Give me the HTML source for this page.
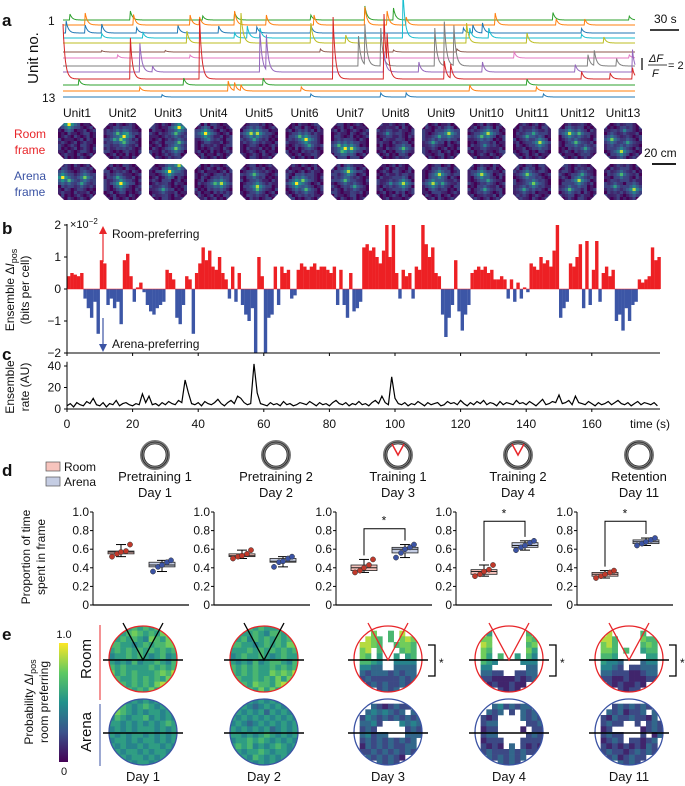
<!DOCTYPE html>
<html><head><meta charset="utf-8">
<style>
body{margin:0;background:#fff}
svg{display:block;font-family:"Liberation Sans",Arial,sans-serif}
text{fill:#111}
</style></head>
<body>
<svg id="fig" width="685" height="786" viewBox="0 0 685 786" xmlns="http://www.w3.org/2000/svg">
<defs>
<clipPath id="oct"><polygon points="6,0 32,0 38,6 38,30 32,36 6,36 0,30 0,6"/></clipPath>
<linearGradient id="vir" x1="0" y1="1" x2="0" y2="0">
<stop offset="0" stop-color="#440154"/><stop offset="0.25" stop-color="#3b528b"/><stop offset="0.5" stop-color="#21918c"/><stop offset="0.75" stop-color="#5ec962"/><stop offset="1" stop-color="#fde725"/></linearGradient>
</defs>
<text x="2" y="26" font-size="17" font-weight="bold">a</text>
<text x="2" y="234" font-size="17" font-weight="bold">b</text>
<text x="2" y="360" font-size="17" font-weight="bold">c</text>
<text x="2" y="476" font-size="17" font-weight="bold">d</text>
<text x="2" y="640" font-size="17" font-weight="bold">e</text>

<text transform="translate(38,58) rotate(-90)" text-anchor="middle" font-size="15">Unit no.</text>
<text x="48" y="25" font-size="12">1</text>
<text x="42" y="102" font-size="12">13</text>
<text x="654" y="23" font-size="12">30 s</text>
<line x1="650" y1="30" x2="679" y2="30" stroke="#000" stroke-width="1.5"/>
<line x1="642" y1="58" x2="642" y2="70" stroke="#000" stroke-width="1.2"/>
<text x="649" y="62" font-size="11" font-style="italic">ΔF</text>
<line x1="648" y1="65" x2="667" y2="65" stroke="#000" stroke-width="0.8"/>
<text x="652" y="77" font-size="11" font-style="italic">F</text>
<text x="668" y="69" font-size="11">= 2</text>
<text x="30" y="138" text-anchor="middle" font-size="12" style="fill:#e8262a">Room</text>
<text x="30" y="154" text-anchor="middle" font-size="12" style="fill:#e8262a">frame</text>
<text x="30" y="180" text-anchor="middle" font-size="12" style="fill:#3b53a4">Arena</text>
<text x="30" y="196" text-anchor="middle" font-size="12" style="fill:#3b53a4">frame</text>
<text x="644" y="157" font-size="12">20 cm</text>
<line x1="652" y1="164" x2="676" y2="164" stroke="#000" stroke-width="1.8"/>
<g id="traces"></g>
<g id="unitmaps"></g>

<text transform="translate(14,290) rotate(-90)" text-anchor="middle" font-size="12">Ensemble Δ<tspan font-style="italic">I</tspan><tspan font-size="9" dy="3">pos</tspan></text>
<text transform="translate(29,290) rotate(-90)" text-anchor="middle" font-size="12">(bits per cell)</text>
<text x="70" y="228" font-size="11">×10<tspan font-size="8" dy="-4">−2</tspan></text>
<text x="112" y="238" font-size="12">Room-preferring</text>
<text x="112" y="348" font-size="12">Arena-preferring</text>
<line x1="103" y1="262" x2="103" y2="232" stroke="#e8262a" stroke-width="1.2"/>
<polygon points="99,234 107,234 103,226" fill="#e8262a"/>
<line x1="103" y1="318" x2="103" y2="346" stroke="#3b53a4" stroke-width="1.2"/>
<polygon points="99,344 107,344 103,352" fill="#3b53a4"/>
<g id="pb"></g>

<text transform="translate(14,387) rotate(-90)" text-anchor="middle" font-size="12">Ensemble</text>
<text transform="translate(29,387) rotate(-90)" text-anchor="middle" font-size="12">rate (AU)</text>
<text x="630" y="428" font-size="12">time (s)</text>
<g id="pc"></g>

<rect x="46" y="462" width="14" height="9" fill="#f7c4bd" stroke="#555" stroke-width="0.7"/>
<text x="64" y="471" font-size="12">Room</text>
<rect x="46" y="477" width="14" height="9" fill="#c5cde3" stroke="#555" stroke-width="0.7"/>
<text x="64" y="486" font-size="12">Arena</text>
<text transform="translate(30,557) rotate(-90)" text-anchor="middle" font-size="12">Proportion of time</text>
<text transform="translate(45,557) rotate(-90)" text-anchor="middle" font-size="12">spent in frame</text>
<g id="pd"></g>

<rect x="59" y="643" width="9" height="119" fill="url(#vir)"/>
<text x="64" y="638" text-anchor="middle" font-size="11">1.0</text>
<text x="64" y="775" text-anchor="middle" font-size="11">0</text>
<text transform="translate(33,702) rotate(-90)" text-anchor="middle" font-size="12">Probability Δ<tspan font-style="italic">I</tspan><tspan font-size="9" dy="3">pos</tspan></text>
<text transform="translate(48,702) rotate(-90)" text-anchor="middle" font-size="12">room preferring</text>
<text transform="translate(91,659) rotate(-90)" text-anchor="middle" font-size="15">Room</text>
<text transform="translate(91,732) rotate(-90)" text-anchor="middle" font-size="15">Arena</text>
<line x1="100" y1="625" x2="100" y2="700" stroke="#e8262a" stroke-width="1"/>
<line x1="100" y1="704" x2="100" y2="766" stroke="#3b53a4" stroke-width="1"/>
<g id="pe"></g>
</svg>

<script>
const NS='http://www.w3.org/2000/svg';
function mk(tag,attrs,parent){const e=document.createElementNS(NS,tag);for(const k in attrs)e.setAttribute(k,attrs[k]);parent.appendChild(e);return e;}
function vir(v){v=Math.max(0,Math.min(1,v));const s=[[68,1,84],[59,82,139],[33,145,140],[94,201,98],[253,231,37]];const p=v*4,i=Math.min(3,Math.floor(p)),f=p-i;const c=s[i].map((a,j)=>Math.round(a+(s[i+1][j]-a)*f));return `rgb(${c[0]},${c[1]},${c[2]})`;}

const unitColors=['#2ca02c','#ff7f0e','#1f77b4','#17becf','#bcbd22','#8c564b','#e377c2','#7f7f7f','#9467bd','#d62728','#2ca02c','#ff7f0e','#1f77b4'];
const unitBaselines=[20,25,33,38,43,52,58,66,72,79,85,91,97];
const unitSpikes=[
[[2,8],[21,12],[44,4],[54,8],[78,5],[95,14],[104,12],[154,10],[178,5]],
[[7,12],[22,14],[40,10],[43,8],[54,14],[64,10],[79,10],[95,18],[102,14],[108,8],[136,12],[155,8],[164,8]],
[[1,12],[7,8],[12,12],[23,7],[36,10],[49,7],[61,6],[78,8],[126,5],[129,8],[132,10],[163,6]],
[[12,6],[25,7],[54,5],[58,12],[62,10],[107,45],[128,10],[134,10],[163,5]],
[[39,12],[56,30],[78,20],[89,8],[127,20],[146,10],[170,8]],
[[12,2],[32,2],[81,3],[104,2],[124,3]],
[[17,4],[40,3],[142,6],[178,4]],
[[93,30],[95,40],[100,38],[117,38],[120,44],[123,40],[165,15],[167,20],[174,10]],
[[24,38],[28,8],[62,40],[64,35],[101,20],[112,10],[132,10],[161,10],[179,30]],
[[0,55],[21,55],[43,60],[85,62],[101,65],[102,30],[120,18],[122,14],[163,10],[172,8],[179,15]],
[[5,6],[38,7],[63,7],[146,6]],
[[24,5],[52,10],[54,8],[56,6],[75,4],[128,6],[149,4]],
[[31,3],[78,3],[100,4],[108,4],[151,4]]
];
function tx(t){return 63+t*572/180;}
const gT=document.getElementById('traces');
unitSpikes.forEach((sp,u)=>{
  let d='';
  for(let t=0;t<=180;t+=0.2){
    let a=0;sp.forEach(s=>{if(t>=s[0])a+=s[1]*Math.exp(-(t-s[0])/0.7);});
    d+=(t===0?'M':'L')+tx(t).toFixed(1)+','+(unitBaselines[u]-a).toFixed(1);
  }
  const p=mk('path',{d:d,fill:'none',stroke:unitColors[u],'stroke-width':1},gT);
  
  
});

const baseTexture='01210120110210121021012010221011201201021101220101210210120120111012021012101201211021012102210120101201210211021012210101211021012010201';
const roomHotspots=[[[3,0,9]],[[6,4,9],[5,5,7],[4,3,6],[6,6,6],[3,5,5],[7,3,5]],[[9,1,9],[8,3,6],[9,6,6],[8,8,7]],[[3,3,9],[4,5,4]],[[3,3,8],[5,3,8],[4,5,5]],[[6,5,9],[4,4,6],[7,7,5]],[[4,8,9],[6,8,8],[2,7,6],[3,9,6]],[[8,8,6],[3,3,4]],[[8,3,8],[5,4,5],[3,6,5]],[[6,3,8],[4,4,6],[5,7,4]],[[8,6,8],[4,4,5],[6,3,5]],[[3,3,8],[6,3,6],[5,6,6],[8,8,5]],[[2,5,7],[5,9,8],[7,6,5],[6,2,4]]];
const arenaHotspots=[[[1,4,9],[3,5,6],[8,4,7],[7,6,5]],[[5,6,9],[4,4,5]],[[6,2,9],[9,0,8],[4,8,5]],[[8,6,8],[6,6,6]],[[4,3,6],[5,7,8],[5,8,6]],[[3,6,9],[5,5,7],[6,8,6]],[[5,2,8],[4,5,6],[7,7,5]],[[8,6,8],[4,6,4]],[[5,3,8],[3,6,8],[6,6,5]],[[4,3,8],[6,5,5],[5,8,5]],[[4,3,7],[6,6,7],[3,8,5]],[[6,5,8],[3,8,6],[7,3,5]],[[5,3,6],[9,8,8],[3,7,5]]];
const gU=document.getElementById('unitmaps');
const unitNames=['Unit1','Unit2','Unit3','Unit4','Unit5','Unit6','Unit7','Unit8','Unit9','Unit10','Unit11','Unit12','Unit13'];
unitNames.forEach((nm,u)=>{
  const cx=77+45.5*u;
  const lab=mk('text',{x:cx,y:117,'text-anchor':'middle','font-size':12},gU);lab.textContent=nm;
  
  
  [[roomHotspots,123,'room'],[arenaHotspots,164,'arena']].forEach(([hs,y0,fr],k)=>{
    const g=mk('g',{transform:`translate(${cx-19},${y0})`,'clip-path':'url(#oct)'},gU);
    
    
    const cs=38/12,csy=36/12;
    for(let r=0;r<12;r++)for(let c=0;c<12;c++){
      const off=(u*7+k*13);
      let v=+baseTexture[(r*12+c+off)%baseTexture.length]*0.1;
      hs[u].forEach(h=>{const dd=Math.abs(h[0]-c)+Math.abs(h[1]-r);if(dd===0)v=Math.max(v,h[2]/9);else if(dd===1)v=Math.max(v,h[2]/9*0.5);else if(dd===2)v=Math.max(v,h[2]/9*0.32);else if(dd===3)v=Math.max(v,h[2]/9*0.22);});
      const cell=mk('rect',{x:(c*cs).toFixed(2),y:(r*csy).toFixed(2),width:cs+0.3,height:csy+0.3,fill:vir(v)},g);
      
      
    }
  });
});

const deltaInfo=[.4,.5,.45,.4,.5,-.3,-.6,-.9,-.4,-1.4,.9,.8,-.5,-.3,-.6,-.4,-1.1,.9,1.1,.4,-.4,.05,.2,-.1,-.5,-.7,-.8,-.6,-.5,-.4,.6,.5,.3,-.9,-1.1,-.5,.4,.3,-1.4,.5,.8,1.3,.9,1.2,.7,.6,1.0,.5,.3,-.3,.7,-.4,.5,-.5,-.8,-1,-.6,-2,1.0,.4,-2,-.9,-.8,.7,-.5,.7,.5,.6,-.3,-.2,.6,.8,.7,.6,.7,.8,.6,.7,.7,.6,.5,.7,-.5,.6,-.5,-.9,.5,-.7,-.6,-.4,1.3,1.4,1.2,1.3,1.0,.8,1.2,2.0,1.0,2.0,.5,-.3,.6,.4,.5,-.3,.7,.6,2.0,1.4,1.0,1.3,.5,.4,-.8,-1.5,-.9,-.5,.9,-.7,-1.3,-.8,-.5,.5,.6,.7,.6,.7,.5,.6,.3,.3,.4,.3,-.3,.3,-.4,.2,-.3,.05,-.1,.8,.7,.6,1.0,.8,.9,.7,1.2,2.0,-.9,-.6,-.4,.8,.7,1.0,1.4,-.6,1.5,-.5,.6,1.5,-.4,.5,.7,.4,.6,-1.0,-.8,-1.3,-.6,-1.0,-.5,-.4,.3,.2,.3,.4,1.3,.9,1.0];
const bYTicks=[2,1,0,-1,-2];
const bYTickLabels=['2','1','0','−1','−2'];
const timeTicks=[0,20,40,60,80,100,120,140,160];
function X(t){return 67+t*3.28;}
function Yb(v){return 289-v*32;}
const gB=document.getElementById('pb');
deltaInfo.forEach((v,i)=>{
  const y=Yb(v),y0=Yb(0);
  const r=mk('rect',{x:X(i).toFixed(2),y:Math.min(y,y0).toFixed(2),width:3.4,height:Math.abs(y-y0).toFixed(2),fill:v>=0?'#ed2024':'#3c56a6'},gB);
  
  
});
mk('line',{x1:67,y1:Yb(2)-1,x2:67,y2:Yb(-2),stroke:'#000','stroke-width':1},gB);
mk('line',{x1:67,y1:Yb(0),x2:660,y2:Yb(0),stroke:'#ed2024','stroke-width':0.6},gB);
mk('line',{x1:67,y1:Yb(-2),x2:660,y2:Yb(-2),stroke:'#000','stroke-width':1},gB);
timeTicks.forEach(t=>mk('line',{x1:X(t),y1:Yb(-2),x2:X(t),y2:Yb(-2)+3,stroke:'#000'},gB));
bYTicks.forEach((v,i)=>{
  mk('line',{x1:64,y1:Yb(v),x2:67,y2:Yb(v),stroke:'#000'},gB);
  const t=mk('text',{x:61,y:Yb(v)+4,'text-anchor':'end','font-size':12},gB);t.textContent=bYTickLabels[i];
  
  
});

const ensembleRate=[3,5,2,6,4,3,7,5,10,4,3,6,2,5,4,8,3,5,6,4,3,5,4,14,6,12,4,5,3,6,4,7,5,4,8,6,27,15,5,4,6,3,7,5,4,6,9,5,3,6,8,5,12,10,6,4,5,42,15,5,4,3,6,4,5,3,7,4,5,3,4,6,5,4,7,5,3,6,4,5,3,6,8,5,4,6,3,5,4,7,4,5,3,6,8,5,12,6,4,30,10,5,4,6,3,5,4,7,5,3,6,4,5,6,3,4,7,5,6,4,8,5,3,6,4,7,5,8,4,6,5,3,7,4,6,5,4,8,5,6,4,7,5,3,6,9,4,5,7,6,13,5,6,8,4,12,6,5,4,7,5,3,6,4,5,7,4,6,8,5,4,6,3,5,7,4,6,5,4,6,3];
const cYTicks=[0,20,40];
function Yc(v){return 409-v*1.075;}
const gC=document.getElementById('pc');
let dc='';
ensembleRate.forEach((v,i)=>{dc+=(i?'L':'M')+X(i).toFixed(1)+','+Yc(v).toFixed(1);});
const pcL=mk('path',{d:dc,fill:'none',stroke:'#000','stroke-width':1.2},gC);


mk('line',{x1:67,y1:Yc(44),x2:67,y2:Yc(0),stroke:'#000'},gC);
mk('line',{x1:67,y1:Yc(0),x2:660,y2:Yc(0),stroke:'#000'},gC);
cYTicks.forEach(v=>{
  mk('line',{x1:64,y1:Yc(v),x2:67,y2:Yc(v),stroke:'#000'},gC);
  const t=mk('text',{x:61,y:Yc(v)+4,'text-anchor':'end','font-size':12},gC);t.textContent=v;
  
  
});
timeTicks.forEach(t=>{
  mk('line',{x1:X(t),y1:Yc(0),x2:X(t),y2:Yc(0)+3,stroke:'#000'},gC);
  const e=mk('text',{x:X(t),y:428,'text-anchor':'middle','font-size':12},gC);e.textContent=t;
  
  
});

const sessions=['Pretraining 1','Pretraining 2','Training 1','Training 2','Retention'];
const sessionDays=['Day 1','Day 2','Day 3','Day 4','Day 11'];
const roomPoints=[[.52,.55,.57,.58,.65],[.50,.52,.53,.55,.59],[.35,.37,.40,.43,.49],[.31,.33,.36,.38,.43],[.29,.31,.33,.35,.37]];
const arenaPoints=[[.36,.41,.43,.46,.48],[.41,.46,.47,.50,.52],[.51,.56,.60,.62,.65],[.59,.62,.64,.67,.69],[.64,.66,.68,.70,.72]];
const sigPairs=[false,false,true,true,true];
const sigLevel=[0,0,0.82,0.9,0.9];
const dYTicks=[0,0.2,0.4,0.6,0.8,1.0];
const dYLabels=['0','0.2','0.4','0.6','0.8','1.0'];
const axX=[93,214,336,456,577];
function Yd(v){return 605-v*93;}
const gD=document.getElementById('pd');
sessions.forEach((s,i)=>{
  const ax=axX[i],hc=ax+62;
  const circ=mk('circle',{cx:hc,cy:455,r:13,fill:'none',stroke:'#777','stroke-width':4},gD);
  
  
  mk('circle',{cx:hc,cy:455,r:13,fill:'none',stroke:'#111','stroke-width':0.6},gD);
  mk('circle',{cx:hc,cy:455,r:11,fill:'none',stroke:'#111','stroke-width':0.6},gD);
  if(i===2||i===3){mk('path',{d:`M${hc-6},${444} L${hc},${455} L${hc+6},${444}`,fill:'none',stroke:'#e8262a','stroke-width':1.5},gD);}
  const t1=mk('text',{x:hc,y:481,'text-anchor':'middle','font-size':13},gD);t1.textContent=s;
  
  
  const t2=mk('text',{x:hc,y:497,'text-anchor':'middle','font-size':13},gD);t2.textContent=sessionDays[i];
  
  
  mk('line',{x1:ax,y1:Yd(1),x2:ax,y2:Yd(0),stroke:'#000'},gD);
  mk('line',{x1:ax,y1:Yd(0),x2:ax+96,y2:Yd(0),stroke:'#000','stroke-width':1.2},gD);
  dYTicks.forEach((v,k)=>{
    mk('line',{x1:ax-3,y1:Yd(v),x2:ax,y2:Yd(v),stroke:'#000'},gD);
    const tl=mk('text',{x:ax-4,y:Yd(v)+4,'text-anchor':'end','font-size':12},gD);tl.textContent=dYLabels[k];
    
    
  });
  [[roomPoints[i],ax+28,'#f7c4bd','#c0392b','room'],[arenaPoints[i],ax+69,'#c5cde3','#3b53a4','arena']].forEach(([pts,cx,fill,dot,nm])=>{
    const sp=[...pts].sort((a,b)=>a-b);const q1=sp[1],med=sp[2],q3=sp[3];
    mk('line',{x1:cx,y1:Yd(sp[0]),x2:cx,y2:Yd(sp[4]),stroke:'#000'},gD);
    mk('line',{x1:cx-5,y1:Yd(sp[0]),x2:cx+5,y2:Yd(sp[0]),stroke:'#000'},gD);
    mk('line',{x1:cx-5,y1:Yd(sp[4]),x2:cx+5,y2:Yd(sp[4]),stroke:'#000'},gD);
    const b=mk('rect',{x:cx-13,y:Yd(q3),width:26,height:Yd(q1)-Yd(q3),fill:fill,stroke:'#222','stroke-width':0.8},gD);
    
    
    mk('line',{x1:cx-13,y1:Yd(med),x2:cx+13,y2:Yd(med),stroke:'#222'},gD);
    const offs=[-9,-4,0,5,9];
    pts.forEach((v,k)=>{
      const c=mk('circle',{cx:cx+offs[k],cy:Yd(v),r:2.6,fill:dot,stroke:'#333','stroke-width':0.5},gD);
      
      
    });
  });
  if(sigPairs[i]){
    const yy=Yd(sigLevel[i]);
    const mr=Math.max(...roomPoints[i]),ma=Math.max(...arenaPoints[i]);
    mk('path',{d:`M${ax+28},${Yd(mr)-4} L${ax+28},${yy} L${ax+69},${yy} L${ax+69},${Yd(ma)-4}`,fill:'none',stroke:'#000','stroke-width':1},gD);
    const st=mk('text',{x:ax+48,y:yy-4,'text-anchor':'middle','font-size':12},gD);st.textContent='*';
    
    
  }
});

const dayLabels=['Day 1','Day 2','Day 3','Day 4','Day 11'];
const roomMaps=[
["556565656655","855676565786","756565476578","665545656677","565656565656","455656545645","545464556546","656555565656","756565556768","865565656578","556565657866","565656575656"],
["565656555655","655565466576","556465656568","665545656577","555656565656","456556545655","545464566546","656565565656","656565576768","565565657578","556576657866","565657575656"],
["............","...7..6.8...","..876.6.787.",".8876..6776.",".78.6...676.",".76.5..5.56.",".6654..4444.",".4433..3333.",".3233323233.",".2322222323.","..232322322.","....2323...."],
["............","..5......6..",".77......76.",".87......67.",".76......75.",".75.6..5.64.",".654....444.",".44......33.",".3322..2233.",".2211112123.","..1211211.2.","....2121...."],
["............","..8.....6...",".886....766.",".786....676.",".776.6..566.",".665.....55.",".5443...344.",".4432.22333.",".3322211233.",".2211211122.","..2121121...","....2122...."]];
const arenaMaps=[
["545454545454","456545654545","576545455454","465455645454","554545454565","454545554545","545455454545","455454554545","545445455454","454554545545","545455454545","454545545454"],
["454545454545","545434545465","454545354546","545454545454","454345454545","545454534545","554545654545","455656545454","565645456545","454556545545","545465454545","454545454545"],
["............","...3212322..","..3434323.3.",".24323232323",".3342...4343",".232.....232",".34233...333",".2323232323.",".1323232233.",".2232323232.","..3232321...","....3232...."],
["............","...3423233..","..323.2.323.",".212....3232",".233.....223",".122....1.22",".233.....232",".1222...2222",".2121.3.2121",".2322232322.","..3232323...","....3232...."],
["............","...2323232..","..3231223.3.",".2132232213.",".2322..2.232",".12.....1232",".2322...2.13",".1232.22123.",".2121212132.",".2322123232.","..2312322...","....3232...."]];
const dayCx=[143,264,388,509,629];
const gE=document.getElementById('pe');
dayCx.forEach((cx,i)=>{
  [[roomMaps[i],659,'#e8262a','room'],[arenaMaps[i],732,'#3b53a4','arena']].forEach(([mp,cy,col,nm])=>{
    const cid='cl'+nm+i;
    const cp=mk('clipPath',{id:cid},gE);mk('ellipse',{cx:cx,cy:cy,rx:34,ry:33},cp);
    const g=mk('g',{'clip-path':`url(#${cid})`},gE);
    
    
    const cs=68/12;
    mp.forEach((row,r)=>{[...row].forEach((ch,c)=>{
      if(ch==='.')return;
      const cell=mk('rect',{x:(cx-34+c*cs).toFixed(2),y:(cy-34+r*cs).toFixed(2),width:cs+0.3,height:cs+0.3,fill:vir(+ch/9)},g);
      
      
    });});
    mk('ellipse',{cx:cx,cy:cy,rx:34,ry:33,fill:'none',stroke:col,'stroke-width':1.3},gE);
    mk('line',{x1:cx-40,y1:cy+1,x2:cx+40,y2:cy+1,stroke:'#000','stroke-width':1.5},gE);
    if(nm==='room'){
      mk('path',{d:`M${cx-20},${cy-36} L${cx},${cy+1} L${cx+20},${cy-36}`,fill:'none',stroke:i<2?'#000':'#e8262a','stroke-width':1.3},gE);
      if(i>=2){
        mk('path',{d:`M${cx+40},${cy-14} L${cx+47},${cy-14} L${cx+47},${cy+17} L${cx+40},${cy+17}`,fill:'none',stroke:'#000','stroke-width':1.3},gE);
        const st=mk('text',{x:cx+51,y:cy+8,'font-size':12},gE);st.textContent='*';
        
        
      }
    }
  });
  const dl=mk('text',{x:cx,y:781,'text-anchor':'middle','font-size':13},gE);dl.textContent=dayLabels[i];
  
  
});
</script>
</body></html>
